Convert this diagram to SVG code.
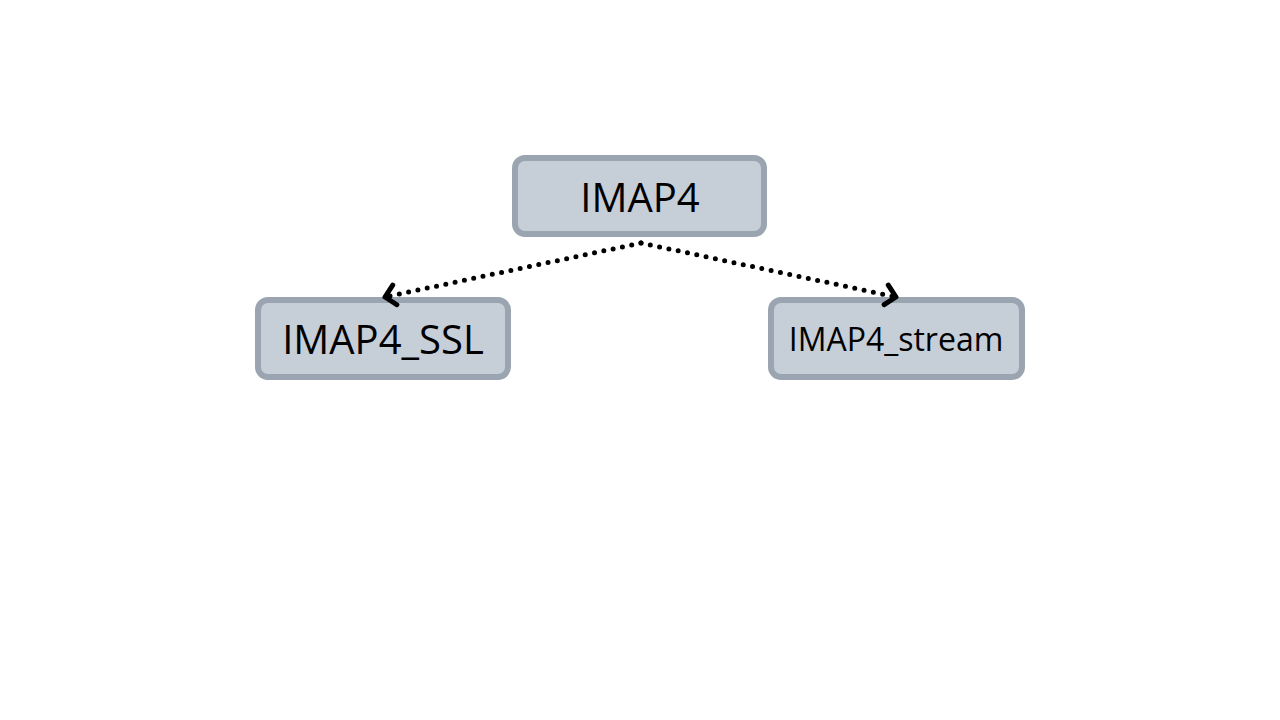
<svg xmlns="http://www.w3.org/2000/svg" width="1280" height="720" viewBox="0 0 1280 720">
<defs>
<style>
.node rect{fill:#c6ced8;stroke:#9aa5b1;stroke-width:6}
.node text{font-family:"Open Sans","Liberation Sans",sans-serif;fill:#000;text-anchor:middle}
.edge{fill:none;stroke:#000;stroke-width:5;stroke-linecap:round;stroke-dasharray:0 9.5}
</style>
<marker id="arr" viewBox="0 0 26 26" refX="19" refY="13" markerWidth="26" markerHeight="26" markerUnits="userSpaceOnUse" orient="auto">
<path d="M9,3 L19,13 L9,23" fill="none" stroke="#000" stroke-width="5" stroke-linecap="round" stroke-linejoin="round"/>
</marker>
</defs>
<rect width="1280" height="720" fill="#fff"/>
<g id="IMAP4" class="node">
<rect x="515" y="158" width="249" height="76" rx="10"/>
<text x="640" y="212" font-size="40">IMAP4</text>
</g>
<g id="IMAP4_SSL" class="node">
<rect x="258" y="300" width="250" height="77" rx="10"/>
<text x="383" y="354" font-size="40">IMAP4_SSL</text>
</g>
<g id="IMAP4_stream" class="node">
<rect x="771" y="300" width="251" height="77" rx="10"/>
<text x="896" y="351" font-size="32">IMAP4_stream</text>
</g>
<g id="connectors">
<path class="edge" d="M641,243 L385,297" marker-end="url(#arr)"/>
<path class="edge" d="M641,243 L896,297" marker-end="url(#arr)"/>
</g>
</svg>
